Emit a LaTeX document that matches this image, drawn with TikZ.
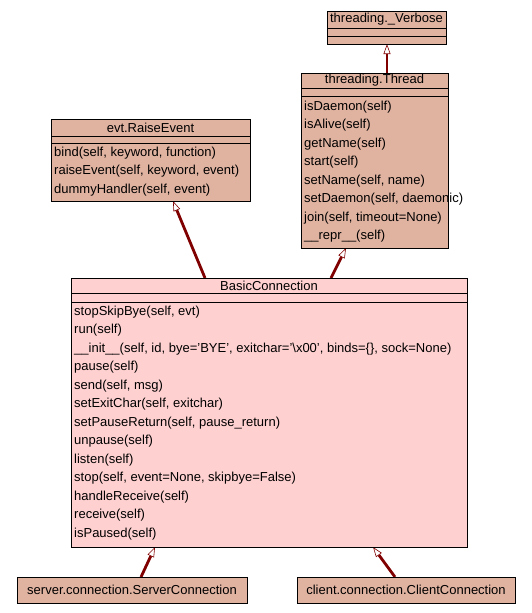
\documentclass[tikz,border=0pt]{standalone}
\usepackage{fontspec}
\setmainfont{Liberation Sans}
\usetikzlibrary{arrows.meta,backgrounds}
\definecolor{clsfill}{RGB}{224,178,160}
\definecolor{bcfill}{RGB}{255,208,208}
\definecolor{linkred}{RGB}{128,0,0}
\begin{document}
\begin{tikzpicture}[x=1pt,y=-1pt,
  classbox/.style={draw=black,line width=0.8pt,fill=clsfill,anchor=north west,inner sep=0pt,outer sep=0pt},
  txt/.style={font=\fontsize{13}{15}\selectfont,inner sep=0pt,anchor=west},
  ttl/.style={font=\fontsize{13}{15}\selectfont,inner sep=0pt},
  sep/.style={draw=black,line width=0.8pt},
  inh/.style={draw=linkred,line width=2.8pt,-{Triangle[length=10pt,width=7pt,fill=white,line width=0.6pt]}}]
\useasboundingbox (0,0) rectangle (531,613);
% threading._Verbose
\node[classbox,minimum width=119pt,minimum height=33pt] (vb) at (327,11) {};
\node[ttl] (vbt) at (386.5,19.5) {threading.\_Verbose};
\draw[sep] (327,28) -- (446,28);
\draw[sep] (327,36) -- (446,36);
% threading.Thread
\node[classbox,minimum width=147pt,minimum height=175pt] (th) at (301,73) {};
\node[ttl] (tht) at (374.5,80.5) {threading.Thread};
\draw[sep] (301,88) -- (448,88);
\draw[sep] (301,96) -- (448,96);
\node[txt] (th1) at (304,107) {isDaemon(self)};
\node[txt] (th2) at (304,125.5) {isAlive(self)};
\node[txt] (th3) at (304,144) {getName(self)};
\node[txt] (th4) at (304,162.5) {start(self)};
\node[txt] (th5) at (304,181) {setName(self, name)};
\node[txt] (th6) at (304,199.5) {setDaemon(self, daemonic)};
\node[txt] (th7) at (304,218) {join(self, timeout=None)};
\node[txt] (th8) at (304,236.5) {\_\_repr\_\_(self)};
% evt.RaiseEvent
\node[classbox,minimum width=199pt,minimum height=82pt] (re) at (51,119) {};
\node[ttl] (ret) at (150.5,127.5) {evt.RaiseEvent};
\draw[sep] (51,136) -- (250,136);
\draw[sep] (51,143) -- (250,143);
\node[txt] (re1) at (54,153) {bind(self, keyword, function)};
\node[txt] (re2) at (54,171.5) {raiseEvent(self, keyword, event)};
\node[txt] (re3) at (54,190) {dummyHandler(self, event)};
% BasicConnection
\node[classbox,fill=bcfill,minimum width=396pt,minimum height=269pt] (bc) at (71,278) {};
\node[ttl] (bct) at (269,285.5) {BasicConnection};
\draw[sep] (71,293) -- (467,293);
\draw[sep] (71,302) -- (467,302);
\node[txt] (bc1) at (74,312) {stopSkipBye(self, evt)};
\node[txt] (bc2) at (74,330.5) {run(self)};
\node[txt] (bc3) at (74,349) {\_\_init\_\_(self, id, bye='BYE', exitchar='\textbackslash x00', binds=\{\}, sock=None)};
\node[txt] (bc4) at (74,367.5) {pause(self)};
\node[txt] (bc5) at (74,386) {send(self, msg)};
\node[txt] (bc6) at (74,404.5) {setExitChar(self, exitchar)};
\node[txt] (bc7) at (74,423) {setPauseReturn(self, pause\_return)};
\node[txt] (bc8) at (74,441.5) {unpause(self)};
\node[txt] (bc9) at (74,460) {listen(self)};
\node[txt] (bc10) at (74,478.5) {stop(self, event=None, skipbye=False)};
\node[txt] (bc11) at (74,497) {handleReceive(self)};
\node[txt] (bc12) at (74,515.5) {receive(self)};
\node[txt] (bc13) at (74,534) {isPaused(self)};
% Server / Client
\node[classbox,minimum width=230pt,minimum height=26pt] (sc) at (17,577) {};
\node[ttl] (sct) at (132,590) {server.connection.ServerConnection};
\node[classbox,minimum width=218pt,minimum height=26pt] (cc) at (297,577) {};
\node[ttl] (cct) at (406,590) {client.connection.ClientConnection};
% inheritance arrows
\begin{pgfonlayer}{background}
\draw[inh] ([xshift=86pt]th.north west) -- ([xshift=60pt]vb.south west);
\draw[inh] ([xshift=134pt]bc.north west) -- ([xshift=122pt]re.south west);
\draw[inh] ([xshift=260pt]bc.north west) -- ([xshift=45pt]th.south west);
\draw[inh] ([xshift=124pt]sc.north west) -- ([xshift=84pt]bc.south west);
\draw[inh] ([xshift=98pt]cc.north west) -- ([xshift=302pt]bc.south west);
\end{pgfonlayer}
\end{tikzpicture}
\end{document}
